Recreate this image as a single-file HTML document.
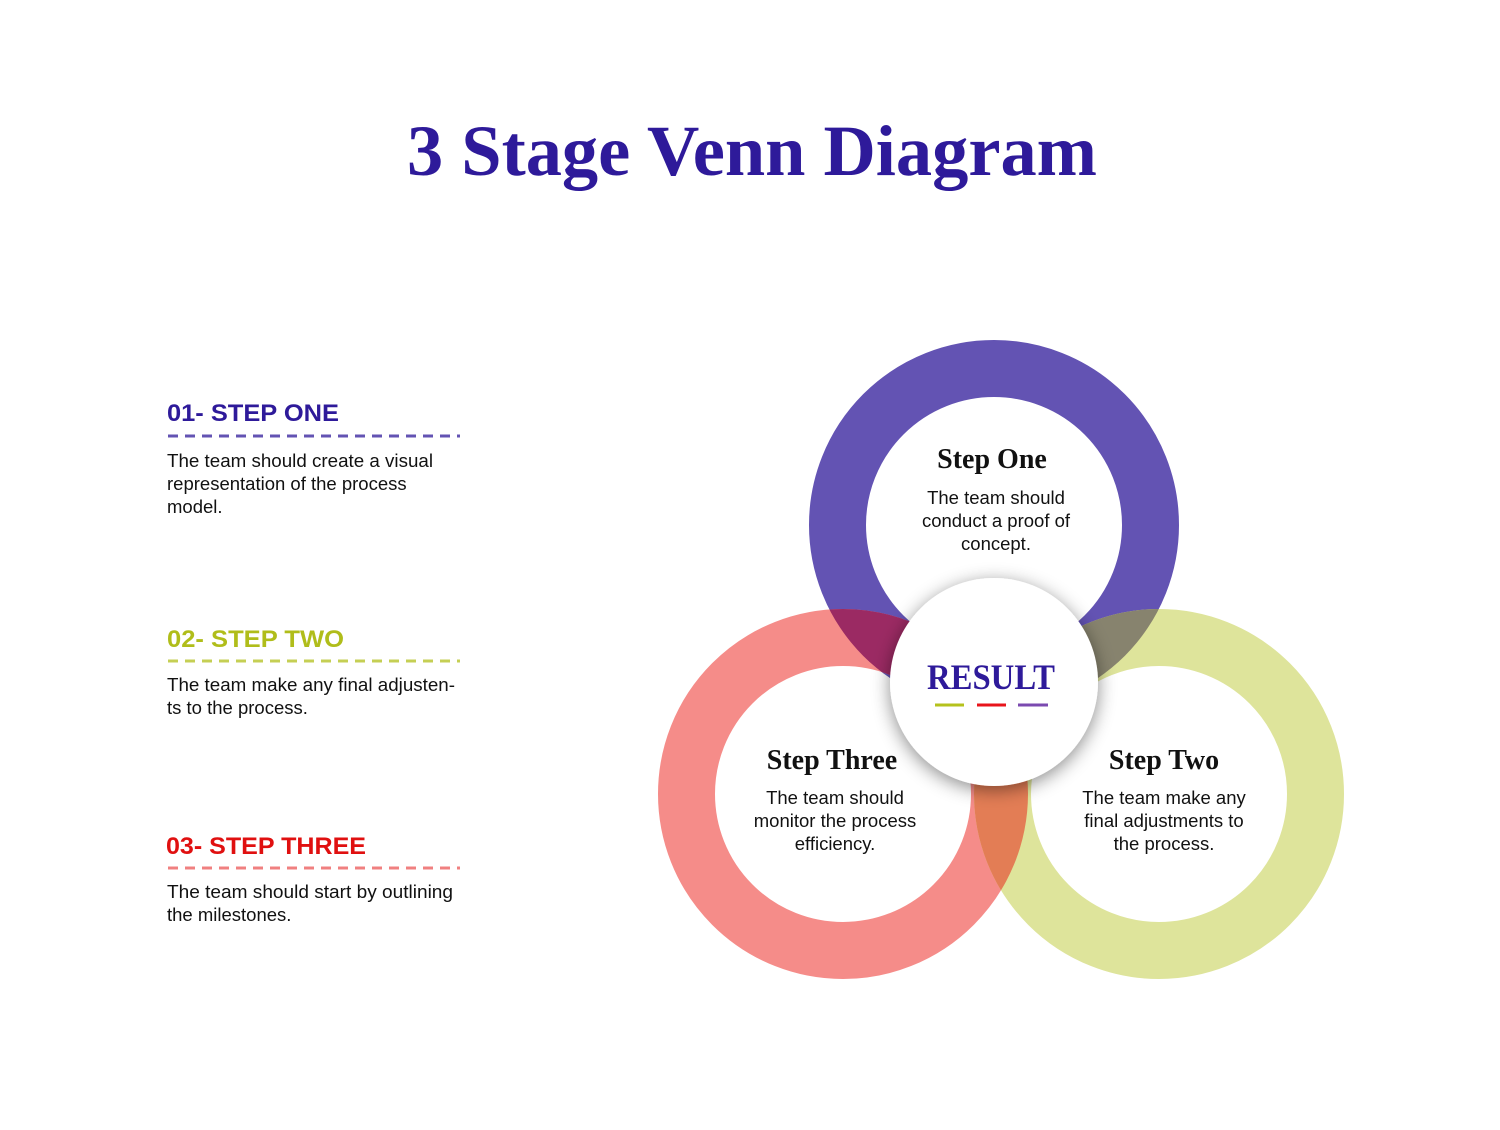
<!DOCTYPE html>
<html><head><meta charset="utf-8"><style>
html,body{margin:0;padding:0;background:#fff;}
body{width:1500px;height:1125px;position:relative;overflow:hidden;font-family:"Liberation Sans",sans-serif;}
</style></head><body>
<svg width="1500" height="1125" viewBox="0 0 1500 1125" xmlns="http://www.w3.org/2000/svg">
<defs>
<clipPath id="cP"><path clip-rule="evenodd" d="M809,525a185,185 0 1,0 370,0a185,185 0 1,0 -370,0ZM866,525a128,128 0 1,0 256,0a128,128 0 1,0 -256,0Z"/></clipPath>
<clipPath id="cR"><path clip-rule="evenodd" d="M658,794a185,185 0 1,0 370,0a185,185 0 1,0 -370,0ZM715,794a128,128 0 1,0 256,0a128,128 0 1,0 -256,0Z"/></clipPath>
<filter id="sh" x="-30%" y="-30%" width="160%" height="160%"><feDropShadow dx="0" dy="4" stdDeviation="9" flood-color="#000" flood-opacity="0.45"/></filter>
</defs>
<text x="752" y="175" text-anchor="middle" font-family="Liberation Serif,serif" font-weight="bold" font-size="72" fill="#2e1a9a" textLength="690" lengthAdjust="spacingAndGlyphs">3 Stage Venn Diagram</text>

<circle cx="994" cy="525" r="156.5" fill="none" stroke="#6353b3" stroke-width="57"/>
<circle cx="843" cy="794" r="156.5" fill="none" stroke="#f58c89" stroke-width="57"/>
<circle cx="1159" cy="794" r="156.5" fill="none" stroke="#dee49b" stroke-width="57"/>
<g clip-path="url(#cP)">
<circle cx="843" cy="794" r="156.5" fill="none" stroke="#9b2a63" stroke-width="57"/>
<circle cx="1159" cy="794" r="156.5" fill="none" stroke="#87836e" stroke-width="57"/>
</g>
<g clip-path="url(#cR)">
<circle cx="1159" cy="794" r="156.5" fill="none" stroke="#e37d55" stroke-width="57"/>
</g>
<circle cx="994" cy="682" r="104" fill="#fff" filter="url(#sh)"/>
<text x="991" y="689" text-anchor="middle" font-family="Liberation Serif,serif" font-weight="bold" font-size="36" fill="#2e1a9a" textLength="128" lengthAdjust="spacingAndGlyphs">RESULT</text>
<line x1="935" y1="705" x2="964" y2="705" stroke="#b5c21c" stroke-width="3"/>
<line x1="977" y1="705" x2="1006" y2="705" stroke="#e8141b" stroke-width="3"/>
<line x1="1018" y1="705" x2="1048" y2="705" stroke="#7b4ab0" stroke-width="3"/>

<g font-family="Liberation Serif,serif" font-weight="bold" font-size="28" fill="#111" text-anchor="middle">
<text x="992" y="468">Step One</text>
<text x="832" y="769">Step Three</text>
<text x="1164" y="769">Step Two</text>
</g>
<g font-size="18.5" fill="#111" text-anchor="middle">
<text x="996" y="504">The team should</text>
<text x="996" y="527">conduct a proof of</text>
<text x="996" y="550">concept.</text>
<text x="835" y="804">The team should</text>
<text x="835" y="827">monitor the process</text>
<text x="835" y="850">efficiency.</text>
<text x="1164" y="804">The team make any</text>
<text x="1164" y="827">final adjustments to</text>
<text x="1164" y="850">the process.</text>
</g>

<g font-size="24" font-weight="bold">
<text x="167" y="421" fill="#2e1a9a" textLength="172" lengthAdjust="spacingAndGlyphs">01- STEP ONE</text>
<text x="167" y="647" fill="#b0bd1a" textLength="177" lengthAdjust="spacingAndGlyphs">02- STEP TWO</text>
<text x="166" y="854" fill="#e01010" textLength="200" lengthAdjust="spacingAndGlyphs">03- STEP THREE</text>
</g>
<line x1="168" y1="436" x2="460" y2="436" stroke="#6353b3" stroke-width="3" stroke-dasharray="10,7"/>
<line x1="168" y1="661" x2="460" y2="661" stroke="#c5cf54" stroke-width="3" stroke-dasharray="10,7"/>
<line x1="168" y1="868" x2="460" y2="868" stroke="#f08080" stroke-width="3" stroke-dasharray="10,7"/>
<g font-size="18.5" fill="#111">
<text x="167" y="467" textLength="266" lengthAdjust="spacingAndGlyphs">The team should create a visual</text>
<text x="167" y="490">representation of the process</text>
<text x="167" y="513">model.</text>
<text x="167" y="691" textLength="288" lengthAdjust="spacingAndGlyphs">The team make any final adjusten-</text>
<text x="167" y="714">ts to the process.</text>
<text x="167" y="898" textLength="286" lengthAdjust="spacingAndGlyphs">The team should start by outlining</text>
<text x="167" y="921">the milestones.</text>
</g>
</svg>
</body></html>
